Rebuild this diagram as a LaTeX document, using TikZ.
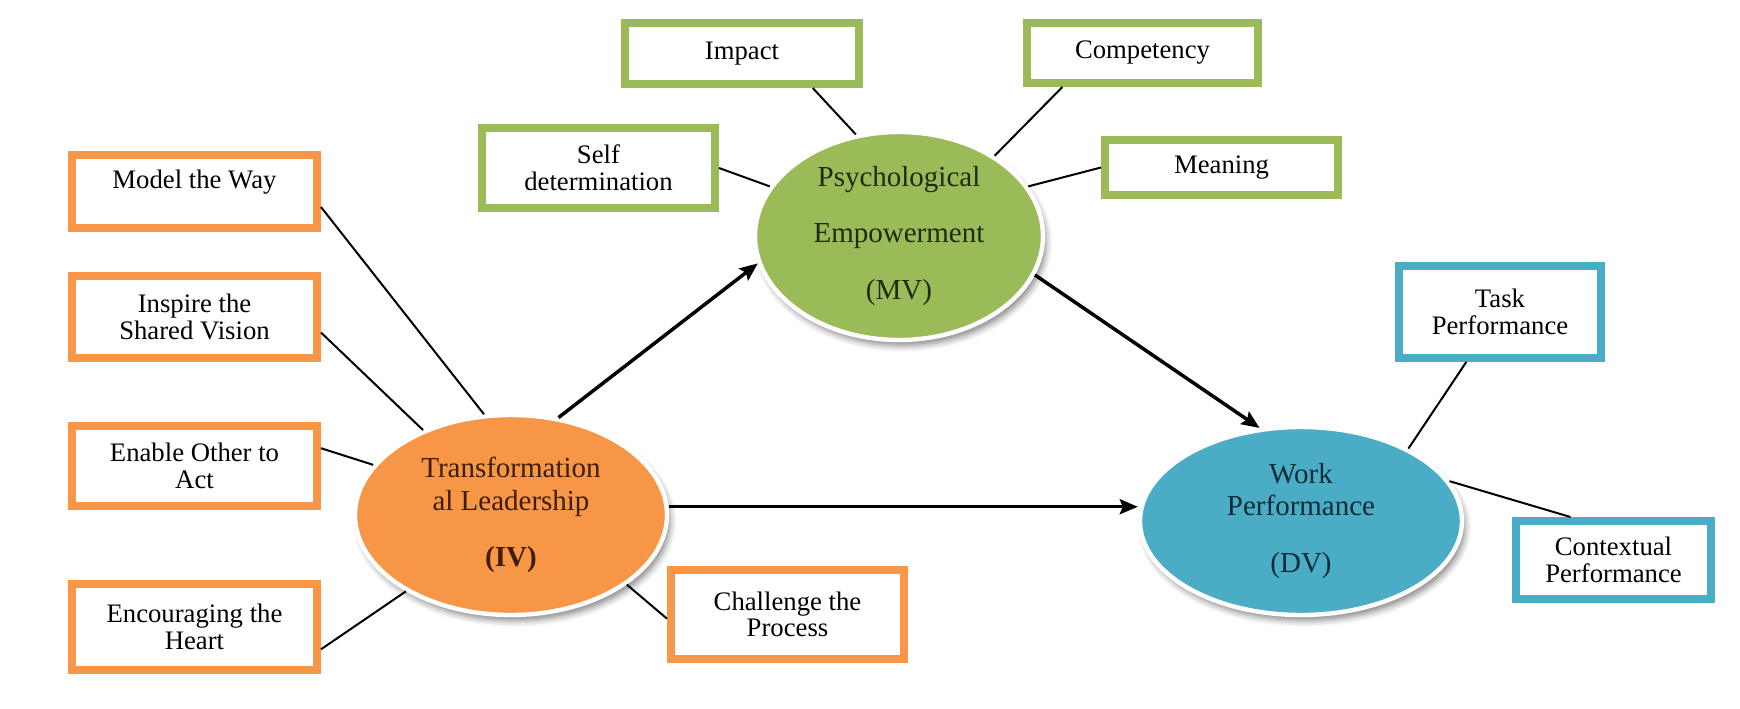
\documentclass[tikz,border=0pt]{standalone}
\usepackage{fontspec}
\setmainfont{Liberation Serif}
\usepackage{xcolor}
\definecolor{tlorange}{HTML}{F79646}
\definecolor{pegreen}{HTML}{9BBB59}
\definecolor{wpblue}{HTML}{4BACC6}
\definecolor{tltext}{HTML}{3D1E05}
\definecolor{petext}{HTML}{1F2B0C}
\definecolor{wptext}{HTML}{0D2C38}
\usepackage{tikz}
\usetikzlibrary{positioning,shapes.geometric,arrows.meta,shadows.blur}

\begin{document}
\begin{tikzpicture}[
  dimbox/.style={rectangle, draw=#1, line width=0.16cm, fill=white, inner sep=0pt,
                 align=center, font=\fontsize{15.2}{15.2}\selectfont},
  construct/.style={ellipse, fill=#1, draw=white, line width=2.5pt, inner sep=0pt,
                    align=center, font=\fontsize{16.5}{18.6}\selectfont,
                    blur shadow={shadow xshift=0.07cm, shadow yshift=-0.12cm,
                                 shadow blur radius=0.12cm, shadow opacity=45}},
  link/.style={line width=0.04cm},
  arrow/.style={-{Stealth[length=0.36cm, width=0.3cm, inset=0.06cm]}, line width=0.07cm},
]

\useasboundingbox (0,0) rectangle (34.8,14.16);

% Transformational leadership dimensions
\node[dimbox=tlorange, minimum width=4.9cm, minimum height=1.46cm] (model) at (3.89,10.33)
  {\raisebox{0.19cm}[\height][\depth]{Model the Way}};
\node[dimbox=tlorange, minimum width=4.9cm, minimum height=1.64cm] (inspire) at (3.89,7.82) {Inspire the\\Shared Vision};
\node[dimbox=tlorange, minimum width=4.9cm, minimum height=1.6cm] (enable) at (3.89,4.84) {Enable Other to\\Act};
\node[dimbox=tlorange, minimum width=4.9cm, minimum height=1.72cm] (encourage) at (3.89,1.62) {Encouraging the\\Heart};
\node[dimbox=tlorange, minimum width=4.66cm, minimum height=1.78cm] (challenge) at (15.75,1.87) {Challenge the\\Process};

% Psychological empowerment dimensions
\node[dimbox=pegreen, minimum width=4.66cm, minimum height=1.6cm] (selfdet) at (11.97,10.8) {Self\\determination};
\node[dimbox=pegreen, minimum width=4.68cm, minimum height=1.22cm] (impact) at (14.84,13.09) {Impact};
\node[dimbox=pegreen, minimum width=4.62cm, minimum height=1.2cm] (competency) at (22.85,13.1) {Competency};
\node[dimbox=pegreen, minimum width=4.66cm, minimum height=1.1cm] (meaning) at (24.43,10.81) {Meaning};

% Work performance dimensions
\node[dimbox=wpblue, minimum width=4.04cm, minimum height=1.84cm] (task) at (30.0,7.92) {Task\\Performance};
\node[dimbox=wpblue, minimum width=3.9cm, minimum height=1.56cm] (contextual) at (32.27,2.96) {Contextual\\Performance};

% Main constructs
\node[construct=tlorange, text=tltext, minimum width=6.24cm, minimum height=4cm] (tl) at (10.22,3.86)
  {Transformation\\al Leadership\\[0.48cm]\textbf{(IV)}};
\node[construct=pegreen, text=petext, minimum width=5.76cm, minimum height=4.16cm] (pe) at (17.98,9.44)
  {Psychological\\[0.48cm]Empowerment\\[0.48cm](MV)};
\node[construct=wpblue, text=wptext, minimum width=6.44cm, minimum height=3.76cm] (wp) at (26.02,3.74)
  {Work\\Performance\\[0.48cm](DV)};

% Dimension links
\draw[link] (model.-7) -- (tl.105);
\draw[link] (inspire.-7) -- (tl.136);
\draw[link] (enable.8) -- (tl.160);
\draw[link] (encourage.-10) -- (tl.216);
\draw[link] (challenge.182) -- (tl.-31);
\draw[link] (selfdet.east) -- (pe.159);
\draw[link] (impact.-26) -- (pe.113);
\draw[link] (competency.203) -- (pe.40);
\draw[link] (meaning.west) -- (pe.21);
\draw[link] (task.236) -- (wp.34);
\draw[link] (contextual.135) -- (wp.15);

% Paths between constructs
\draw[arrow] (tl.64) -- (pe.191);
\draw[arrow] (tl.3) -- (tl.3 -| wp.west);
\draw[arrow] (pe.-16) -- (wp.114);

\end{tikzpicture}
\end{document}
